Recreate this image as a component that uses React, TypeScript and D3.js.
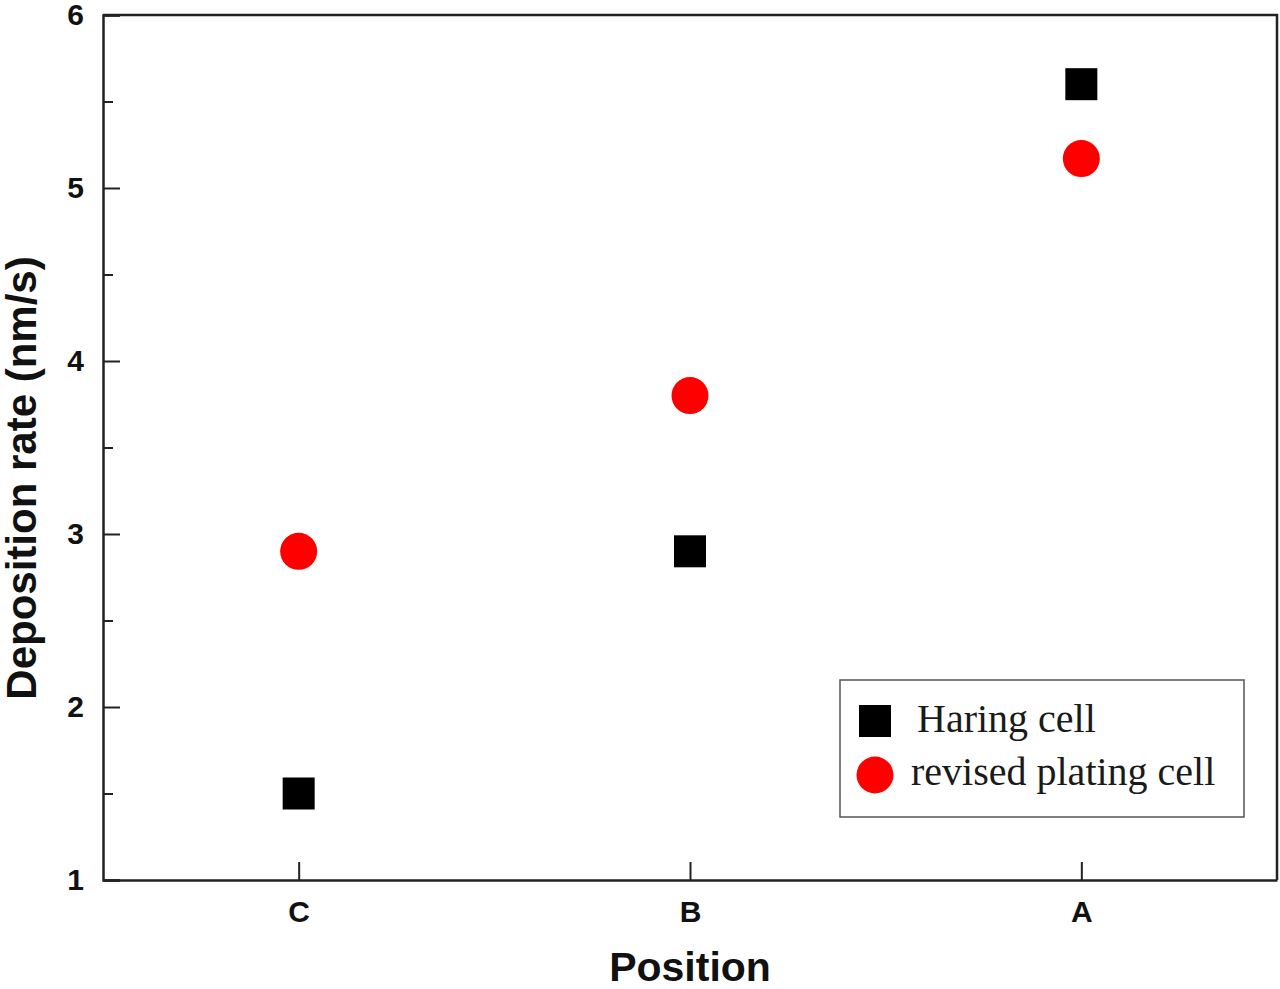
import * as d3 from "d3";
import { useEffect, useRef } from "react";

const positions = ["C", "B", "A"];
const haringCell = [1.5, 2.9, 5.6];
const revisedCell = [2.9, 3.8, 5.17];
const yMajorTicks = [1, 2, 3, 4, 5, 6];
const yMinorTicks = [1.5, 2.5, 3.5, 4.5, 5.5];
const seriesNames = ["Haring cell", "revised plating cell"];

export default function App() {
  const ref = useRef<SVGSVGElement>(null);

  useEffect(() => {
    const svg = d3.select(ref.current);
    svg.selectAll("*").remove();

    const width = 1280;
    const height = 989;
    const margin = { top: 15, right: 3, bottom: 109, left: 103 };
    const plotW = width - margin.left - margin.right;
    const plotH = height - margin.top - margin.bottom;
    const sans = "'Liberation Sans', Arial, sans-serif";
    const serif = "'Liberation Serif', 'Times New Roman', serif";

    svg.attr("width", width).attr("height", height);
    svg.append("rect").attr("width", width).attr("height", height).attr("fill", "#fff");

    const g = svg.append("g").attr("transform", `translate(${margin.left},${margin.top})`);

    const x = d3.scalePoint().domain(positions).range([0, plotW]).padding(0.5);
    const y = d3.scaleLinear().domain([1, 6]).range([plotH, 0]);

    // frame (top + right)
    g.append("path")
      .attr("d", `M0,0H${plotW}V${plotH}`)
      .attr("fill", "none")
      .attr("stroke", "#222")
      .attr("stroke-width", 2.5);

    // y axis
    const yAxis = g.append("g")
      .call(d3.axisLeft(y).tickValues(yMajorTicks).tickFormat(d3.format("d")).tickSize(-17).tickPadding(19));
    yAxis.select(".domain").attr("stroke", "#222").attr("stroke-width", 2.5);
    yAxis.selectAll(".tick line").attr("stroke", "#222").attr("stroke-width", 2);
    yAxis.selectAll("text")
      .attr("font-family", sans)
      .attr("font-weight", "bold")
      .attr("font-size", 30)
      .attr("fill", "#111");

    const yMinor = g.append("g")
      .call(d3.axisLeft(y).tickValues(yMinorTicks).tickFormat(() => "").tickSize(-10));
    yMinor.select(".domain").remove();
    yMinor.selectAll(".tick line").attr("stroke", "#222").attr("stroke-width", 2);

    // x axis
    const xAxis = g.append("g")
      .attr("transform", `translate(0,${plotH})`)
      .call(d3.axisBottom(x).tickSize(-18).tickPadding(21).tickSizeOuter(0));
    xAxis.select(".domain").attr("stroke", "#222").attr("stroke-width", 2.5);
    xAxis.selectAll(".tick line").attr("stroke", "#222").attr("stroke-width", 2);
    xAxis.selectAll("text")
      .attr("font-family", sans)
      .attr("font-weight", "bold")
      .attr("font-size", 30)
      .attr("fill", "#111");

    // axis titles
    svg.append("text")
      .attr("x", margin.left + plotW / 2)
      .attr("y", 981)
      .attr("text-anchor", "middle")
      .style("font-family", sans)
      .style("font-weight", "bold")
      .style("font-size", "41px")
      .attr("fill", "#111")
      .text("Position");

    svg.append("text")
      .attr("transform", "rotate(-90)")
      .attr("x", -478)
      .attr("y", 36)
      .attr("text-anchor", "middle")
      .style("font-family", sans)
      .style("font-weight", "bold")
      .style("font-size", "42px")
      .attr("fill", "#111")
      .text("Deposition rate (nm/s)");

    // points
    const sq = 32;
    g.selectAll(".haring")
      .data(positions)
      .enter()
      .append("rect")
      .attr("x", (d) => (x(d) || 0) - sq / 2)
      .attr("y", (d, i) => y(haringCell[i]) - sq / 2)
      .attr("width", sq)
      .attr("height", sq)
      .attr("fill", "#000");

    g.selectAll(".revised")
      .data(positions)
      .enter()
      .append("circle")
      .attr("cx", (d) => x(d) || 0)
      .attr("cy", (d, i) => y(revisedCell[i]))
      .attr("r", 18.5)
      .attr("fill", "#ff0000");

    // legend
    const legend = svg.append("g");
    legend.append("rect")
      .attr("x", 840)
      .attr("y", 680)
      .attr("width", 404)
      .attr("height", 137)
      .attr("fill", "#fff")
      .attr("stroke", "#555")
      .attr("stroke-width", 1.5);

    legend.append("rect")
      .attr("x", 875 - sq / 2)
      .attr("y", 721 - sq / 2)
      .attr("width", sq)
      .attr("height", sq)
      .attr("fill", "#000");
    legend.append("circle")
      .attr("cx", 875)
      .attr("cy", 775)
      .attr("r", 18.5)
      .attr("fill", "#ff0000");

    legend.selectAll(".legend-label")
      .data(seriesNames)
      .enter()
      .append("text")
      .attr("x", (d, i) => (i === 0 ? 917 : 911))
      .attr("y", (d, i) => (i === 0 ? 732 : 785))
      .style("font-family", serif)
      .style("font-size", "40px")
      .attr("fill", "#1a1a1a")
      .text((d) => d);
  }, []);

  return (
    <div style={{ position: "absolute", left: 0, top: 0 }}>
      <svg ref={ref} style={{ display: "block" }} />
    </div>
  );
}
